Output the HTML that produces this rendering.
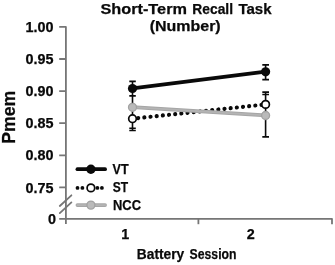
<!DOCTYPE html>
<html><head><meta charset="utf-8">
<style>
html,body{margin:0;padding:0;background:#fff;}
svg{display:block}
text{font-family:"Liberation Sans","DejaVu Sans",sans-serif;font-weight:bold;fill:#0a0a0a;stroke:#0a0a0a;stroke-width:0.25px;}
</style></head>
<body>
<svg width="335" height="265" viewBox="0 0 335 265">
<rect width="335" height="265" fill="#fff"/>
<!-- title -->
<g font-size="15">
<text x="100.4" y="14" textLength="86.6" lengthAdjust="spacingAndGlyphs">Short-Term</text>
<text x="192.3" y="14" textLength="40.7" lengthAdjust="spacingAndGlyphs">Recall</text>
<text x="238.4" y="14" textLength="33.2" lengthAdjust="spacingAndGlyphs">Task</text>
<text x="149.7" y="30.9" font-size="14.6" textLength="71" lengthAdjust="spacingAndGlyphs">(Number)</text>
</g>
<!-- axes -->
<g stroke="#767676" stroke-width="1.8" fill="none">
<path d="M59.2 26.9H65.9V224 M59.2 218.9 H332 V224.2" stroke-linejoin="round"/>
<path d="M59.2 59H65.9 M59.2 91.1H65.9 M59.2 123.2H65.9 M59.2 155.3H65.9 M59.2 187.4H65.9"/>
<path d="M198.4 218.9V224.2"/>
<path d="M59.8 206 L71.4 195.3 M59.8 213.1 L71.4 202.4" stroke-linecap="round"/>
</g>
<!-- y labels -->
<g font-size="14">
<text x="25.6" y="32" textLength="28" lengthAdjust="spacingAndGlyphs">1.00</text>
<text x="25.6" y="64.1" textLength="28" lengthAdjust="spacingAndGlyphs">0.95</text>
<text x="25.6" y="96.2" textLength="28" lengthAdjust="spacingAndGlyphs">0.90</text>
<text x="25.6" y="128.3" textLength="28" lengthAdjust="spacingAndGlyphs">0.85</text>
<text x="25.6" y="160.4" textLength="28" lengthAdjust="spacingAndGlyphs">0.80</text>
<text x="25.6" y="192.5" textLength="28" lengthAdjust="spacingAndGlyphs">0.75</text>
<text x="48" y="224" textLength="8" lengthAdjust="spacingAndGlyphs">0</text>
</g>
<text transform="translate(15.3,143.8) rotate(-90)" font-size="17.7" textLength="53" lengthAdjust="spacingAndGlyphs">Pmem</text>
<!-- x labels -->
<text x="121.2" y="239.2" font-size="14" textLength="8" lengthAdjust="spacingAndGlyphs">1</text>
<text x="246.8" y="239.2" font-size="14" textLength="8" lengthAdjust="spacingAndGlyphs">2</text>
<text x="136.8" y="259.3" font-size="14.4" textLength="47.4" lengthAdjust="spacingAndGlyphs">Battery</text>
<text x="189.6" y="259.3" font-size="14.4" textLength="46.9" lengthAdjust="spacingAndGlyphs">Session</text>
<!-- error bars -->
<g stroke="#0a0a0a" stroke-width="1.6" fill="none">
<path d="M132.5 81.4V130.4 M129.3 81.4H135.8 M129.3 95.9H135.8 M129.3 128.2H135.8 M129.3 130.5H135.8"/>
<path d="M265.6 64.9V79.6 M262.3 64.9H269 M262.3 79.6H269"/>
<path d="M265.6 92.1V136.9 M262.3 92.1H269 M262.3 94.5H269 M262.3 136.9H269"/>
</g>
<!-- series -->
<line x1="132.5" y1="88.4" x2="265.6" y2="71.6" stroke="#0a0a0a" stroke-width="3.7"/>
<circle cx="132.5" cy="88.5" r="4.6" fill="#0a0a0a"/>
<circle cx="265.6" cy="71.8" r="4.6" fill="#0a0a0a"/>
<line x1="132.5" y1="118.7" x2="265.6" y2="104.4" stroke="#0a0a0a" stroke-width="4.2" stroke-dasharray="0.01 6.19" stroke-dashoffset="0.47" stroke-linecap="round"/>
<circle cx="132.5" cy="118.7" r="3.8" fill="#fff" stroke="#0a0a0a" stroke-width="1.7"/>
<circle cx="265.6" cy="104.4" r="3.8" fill="#fff" stroke="#0a0a0a" stroke-width="1.7"/>
<line x1="132.5" y1="107.2" x2="265.6" y2="115.4" stroke="#a6a6a6" stroke-width="3.7"/>
<line x1="132.5" y1="107.2" x2="265.6" y2="115.4" stroke="#b4b4b4" stroke-width="1.8"/>
<circle cx="132.5" cy="107.3" r="4.0" fill="#bababa" stroke="#a2a2a2" stroke-width="1.3"/>
<circle cx="265.6" cy="115.5" r="4.0" fill="#bababa" stroke="#a2a2a2" stroke-width="1.3"/>
<!-- legend -->
<line x1="77.4" y1="169.2" x2="105.1" y2="169.2" stroke="#0a0a0a" stroke-width="3.7" stroke-linecap="round"/>
<circle cx="90.9" cy="169.2" r="4.7" fill="#0a0a0a"/>
<g fill="#0a0a0a"><circle cx="77.5" cy="187.9" r="1.9"/><circle cx="82.4" cy="187.9" r="1.9"/><circle cx="97.4" cy="187.9" r="1.9"/><circle cx="101.9" cy="187.9" r="1.9"/></g>
<circle cx="90.9" cy="187.9" r="3.8" fill="#fff" stroke="#0a0a0a" stroke-width="1.7"/>
<line x1="77.4" y1="205.1" x2="105.1" y2="205.1" stroke="#a6a6a6" stroke-width="3.7" stroke-linecap="round"/>
<line x1="77.4" y1="205.1" x2="105.1" y2="205.1" stroke="#b4b4b4" stroke-width="1.8" stroke-linecap="round"/>
<circle cx="90.9" cy="205.1" r="4.0" fill="#bababa" stroke="#a2a2a2" stroke-width="1.3"/>
<g font-size="14.4">
<text x="112.6" y="173.8" textLength="16" lengthAdjust="spacingAndGlyphs">VT</text>
<text x="112.8" y="191.9" textLength="15.4" lengthAdjust="spacingAndGlyphs">ST</text>
<text x="113" y="209.8" textLength="28" lengthAdjust="spacingAndGlyphs">NCC</text>
</g>
</svg>
</body></html>
